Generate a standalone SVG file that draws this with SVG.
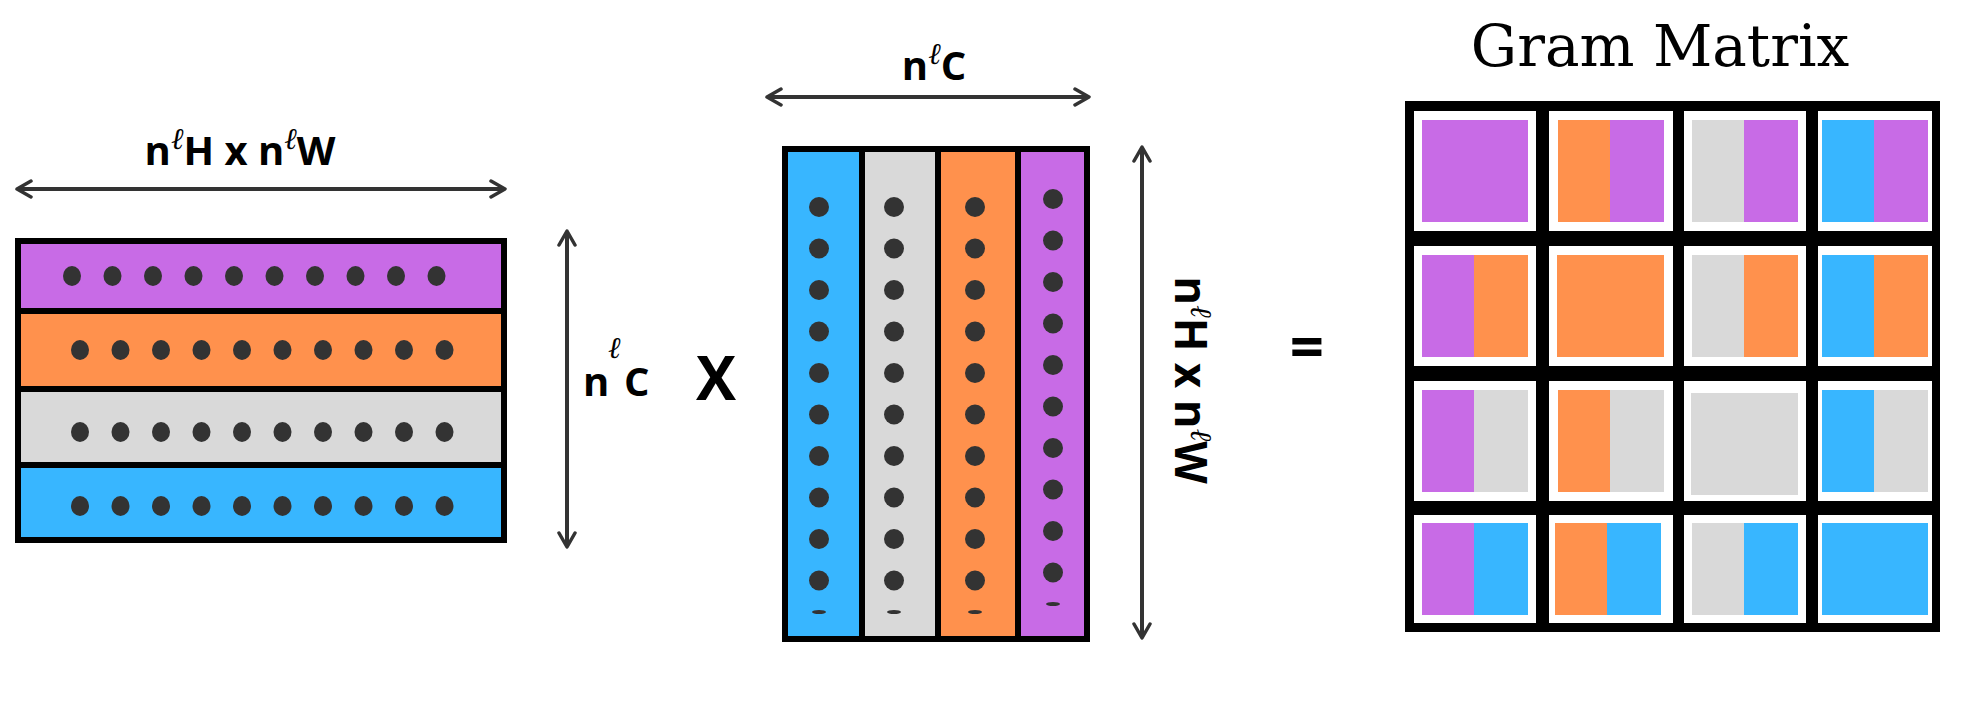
<svg xmlns="http://www.w3.org/2000/svg" width="1980" height="720" viewBox="0 0 1980 720">
<defs>
<marker id="ah" viewBox="0 0 20 20" refX="17" refY="10" markerWidth="20" markerHeight="20" markerUnits="userSpaceOnUse" orient="auto-start-reverse">
<path d="M3,2 L17,10 L3,18" fill="none" stroke="#333" stroke-width="3.5" stroke-linecap="round" stroke-linejoin="round"/>
</marker>
</defs>
<style>
.lbl{font-family:"Open Sans","Liberation Sans",sans-serif;font-weight:bold;font-size:40px;fill:#000}
.big{font-size:60px}
.ell{font-family:"DejaVu Serif",serif;font-weight:normal;font-style:italic;font-size:30px}
.dot{fill:#333}
.arr{stroke:#333;stroke-width:4;fill:none}
.pu{fill:#C86BE6}.or{fill:#FF914D}.gr{fill:#D9D9D9}.bl{fill:#38B6FF}
.bd{stroke:#000;stroke-width:6}
</style>
<rect width="1980" height="720" fill="#fff"/>
<g id="connectors">
<line class="arr" x1="17" y1="189" x2="505" y2="189" marker-start="url(#ah)" marker-end="url(#ah)"/>
<line class="arr" x1="567" y1="231" x2="567" y2="547" marker-start="url(#ah)" marker-end="url(#ah)"/>
<line class="arr" x1="767" y1="97" x2="1089" y2="97" marker-start="url(#ah)" marker-end="url(#ah)"/>
<line class="arr" x1="1142" y1="147" x2="1142" y2="638" marker-start="url(#ah)" marker-end="url(#ah)"/>
</g>
<g id="labels">
<text class="lbl" x="240" y="165" text-anchor="middle">n<tspan class="ell" dy="-16">ℓ</tspan><tspan dy="16">H x n</tspan><tspan class="ell" dy="-16">ℓ</tspan><tspan dy="16">W</tspan></text>
<text class="lbl" x="583" y="396">n</text>
<text class="ell" x="608" y="358">ℓ</text>
<text class="lbl" x="624" y="396">C</text>
<text class="lbl big" x="716" y="400" text-anchor="middle">X</text>
<text class="lbl" x="934" y="80" text-anchor="middle">n<tspan class="ell" dy="-16">ℓ</tspan><tspan dy="16">C</tspan></text>
<text class="lbl" transform="translate(1175,380) rotate(90)" text-anchor="middle" style="font-size:44px">n<tspan class="ell" dy="-16">ℓ</tspan><tspan dy="16">H x n</tspan><tspan class="ell" dy="-16">ℓ</tspan><tspan dy="16">W</tspan></text>
<text class="lbl big" x="1307" y="368" text-anchor="middle">=</text>
<text x="1660" y="66" text-anchor="middle" font-family="'DejaVu Serif','Liberation Serif',serif" font-size="58">Gram Matrix</text>
</g>
<g id="left-matrix">
<rect class="pu" x="18" y="241" width="486" height="70"/>
<rect class="or" x="18" y="311" width="486" height="78"/>
<rect class="gr" x="18" y="389" width="486" height="76"/>
<rect class="bl" x="18" y="465" width="486" height="75"/>
<rect x="18" y="241" width="486" height="299" fill="none" class="bd"/>
<line class="bd" x1="18" y1="311" x2="504" y2="311"/>
<line class="bd" x1="18" y1="389" x2="504" y2="389"/>
<line class="bd" x1="18" y1="465" x2="504" y2="465"/>
<g class="dot">
<ellipse cx="72" cy="276" rx="9" ry="10"/><ellipse cx="112.5" cy="276" rx="9" ry="10"/><ellipse cx="153" cy="276" rx="9" ry="10"/><ellipse cx="193.5" cy="276" rx="9" ry="10"/><ellipse cx="234" cy="276" rx="9" ry="10"/><ellipse cx="274.5" cy="276" rx="9" ry="10"/><ellipse cx="315" cy="276" rx="9" ry="10"/><ellipse cx="355.5" cy="276" rx="9" ry="10"/><ellipse cx="396" cy="276" rx="9" ry="10"/><ellipse cx="436.5" cy="276" rx="9" ry="10"/>
<ellipse cx="80" cy="350" rx="9" ry="10"/><ellipse cx="120.5" cy="350" rx="9" ry="10"/><ellipse cx="161" cy="350" rx="9" ry="10"/><ellipse cx="201.5" cy="350" rx="9" ry="10"/><ellipse cx="242" cy="350" rx="9" ry="10"/><ellipse cx="282.5" cy="350" rx="9" ry="10"/><ellipse cx="323" cy="350" rx="9" ry="10"/><ellipse cx="363.5" cy="350" rx="9" ry="10"/><ellipse cx="404" cy="350" rx="9" ry="10"/><ellipse cx="444.5" cy="350" rx="9" ry="10"/>
<ellipse cx="80" cy="432" rx="9" ry="10"/><ellipse cx="120.5" cy="432" rx="9" ry="10"/><ellipse cx="161" cy="432" rx="9" ry="10"/><ellipse cx="201.5" cy="432" rx="9" ry="10"/><ellipse cx="242" cy="432" rx="9" ry="10"/><ellipse cx="282.5" cy="432" rx="9" ry="10"/><ellipse cx="323" cy="432" rx="9" ry="10"/><ellipse cx="363.5" cy="432" rx="9" ry="10"/><ellipse cx="404" cy="432" rx="9" ry="10"/><ellipse cx="444.5" cy="432" rx="9" ry="10"/>
<ellipse cx="80" cy="506" rx="9" ry="10"/><ellipse cx="120.5" cy="506" rx="9" ry="10"/><ellipse cx="161" cy="506" rx="9" ry="10"/><ellipse cx="201.5" cy="506" rx="9" ry="10"/><ellipse cx="242" cy="506" rx="9" ry="10"/><ellipse cx="282.5" cy="506" rx="9" ry="10"/><ellipse cx="323" cy="506" rx="9" ry="10"/><ellipse cx="363.5" cy="506" rx="9" ry="10"/><ellipse cx="404" cy="506" rx="9" ry="10"/><ellipse cx="444.5" cy="506" rx="9" ry="10"/>
</g>
</g>
<g id="right-matrix">
<rect class="bl" x="785" y="149" width="77" height="490"/>
<rect class="gr" x="862" y="149" width="76" height="490"/>
<rect class="or" x="938" y="149" width="80" height="490"/>
<rect class="pu" x="1018" y="149" width="69" height="490"/>
<rect x="785" y="149" width="302" height="490" fill="none" class="bd"/>
<line class="bd" x1="862" y1="149" x2="862" y2="639"/>
<line class="bd" x1="938" y1="149" x2="938" y2="639"/>
<line class="bd" x1="1018" y1="149" x2="1018" y2="639"/>
<g class="dot">
<circle cx="819" cy="207" r="10"/><circle cx="819" cy="248.5" r="10"/><circle cx="819" cy="290" r="10"/><circle cx="819" cy="331.5" r="10"/><circle cx="819" cy="373" r="10"/><circle cx="819" cy="414.5" r="10"/><circle cx="819" cy="456" r="10"/><circle cx="819" cy="497.5" r="10"/><circle cx="819" cy="539" r="10"/><circle cx="819" cy="580.5" r="10"/><ellipse cx="819" cy="612" rx="7" ry="2"/>
<circle cx="894" cy="207" r="10"/><circle cx="894" cy="248.5" r="10"/><circle cx="894" cy="290" r="10"/><circle cx="894" cy="331.5" r="10"/><circle cx="894" cy="373" r="10"/><circle cx="894" cy="414.5" r="10"/><circle cx="894" cy="456" r="10"/><circle cx="894" cy="497.5" r="10"/><circle cx="894" cy="539" r="10"/><circle cx="894" cy="580.5" r="10"/><ellipse cx="894" cy="612" rx="7" ry="2"/>
<circle cx="975" cy="207" r="10"/><circle cx="975" cy="248.5" r="10"/><circle cx="975" cy="290" r="10"/><circle cx="975" cy="331.5" r="10"/><circle cx="975" cy="373" r="10"/><circle cx="975" cy="414.5" r="10"/><circle cx="975" cy="456" r="10"/><circle cx="975" cy="497.5" r="10"/><circle cx="975" cy="539" r="10"/><circle cx="975" cy="580.5" r="10"/><ellipse cx="975" cy="612" rx="7" ry="2"/>
<circle cx="1053" cy="199" r="10"/><circle cx="1053" cy="240.5" r="10"/><circle cx="1053" cy="282" r="10"/><circle cx="1053" cy="323.5" r="10"/><circle cx="1053" cy="365" r="10"/><circle cx="1053" cy="406.5" r="10"/><circle cx="1053" cy="448" r="10"/><circle cx="1053" cy="489.5" r="10"/><circle cx="1053" cy="531" r="10"/><circle cx="1053" cy="572.5" r="10"/><ellipse cx="1053" cy="604" rx="7" ry="2"/>
</g>
</g>
<g id="gram-matrix">
<rect x="1405" y="101" width="535" height="531" fill="#000"/>
<g fill="#fff">
<rect x="1414" y="111" width="122" height="120"/><rect x="1549" y="111" width="124" height="120"/><rect x="1684" y="111" width="122" height="120"/><rect x="1818" y="111" width="114" height="120"/>
<rect x="1414" y="246" width="122" height="120"/><rect x="1549" y="246" width="124" height="120"/><rect x="1684" y="246" width="122" height="120"/><rect x="1818" y="246" width="114" height="120"/>
<rect x="1414" y="381" width="122" height="120"/><rect x="1549" y="381" width="124" height="120"/><rect x="1684" y="381" width="122" height="120"/><rect x="1818" y="381" width="114" height="120"/>
<rect x="1414" y="515" width="122" height="108"/><rect x="1549" y="515" width="124" height="108"/><rect x="1684" y="515" width="122" height="108"/><rect x="1818" y="515" width="114" height="108"/>
</g>
<rect class="pu" x="1422" y="120" width="106" height="102"/>
<rect class="or" x="1558" y="120" width="52" height="102"/><rect class="pu" x="1610" y="120" width="54" height="102"/>
<rect class="gr" x="1692" y="120" width="52" height="102"/><rect class="pu" x="1744" y="120" width="54" height="102"/>
<rect class="bl" x="1822" y="120" width="52" height="102"/><rect class="pu" x="1874" y="120" width="54" height="102"/>
<rect class="pu" x="1422" y="255" width="52" height="102"/><rect class="or" x="1474" y="255" width="54" height="102"/>
<rect class="or" x="1557" y="255" width="107" height="102"/>
<rect class="gr" x="1692" y="255" width="52" height="102"/><rect class="or" x="1744" y="255" width="54" height="102"/>
<rect class="bl" x="1822" y="255" width="52" height="102"/><rect class="or" x="1874" y="255" width="54" height="102"/>
<rect class="pu" x="1422" y="390" width="52" height="102"/><rect class="gr" x="1474" y="390" width="54" height="102"/>
<rect class="or" x="1558" y="390" width="52" height="102"/><rect class="gr" x="1610" y="390" width="54" height="102"/>
<rect class="gr" x="1691" y="393" width="107" height="102"/>
<rect class="bl" x="1822" y="390" width="52" height="102"/><rect class="gr" x="1874" y="390" width="54" height="102"/>
<rect class="pu" x="1422" y="523" width="52" height="92"/><rect class="bl" x="1474" y="523" width="54" height="92"/>
<rect class="or" x="1555" y="523" width="52" height="92"/><rect class="bl" x="1607" y="523" width="54" height="92"/>
<rect class="gr" x="1692" y="523" width="52" height="92"/><rect class="bl" x="1744" y="523" width="54" height="92"/>
<rect class="bl" x="1822" y="523" width="106" height="92"/>
</g>
</svg>
